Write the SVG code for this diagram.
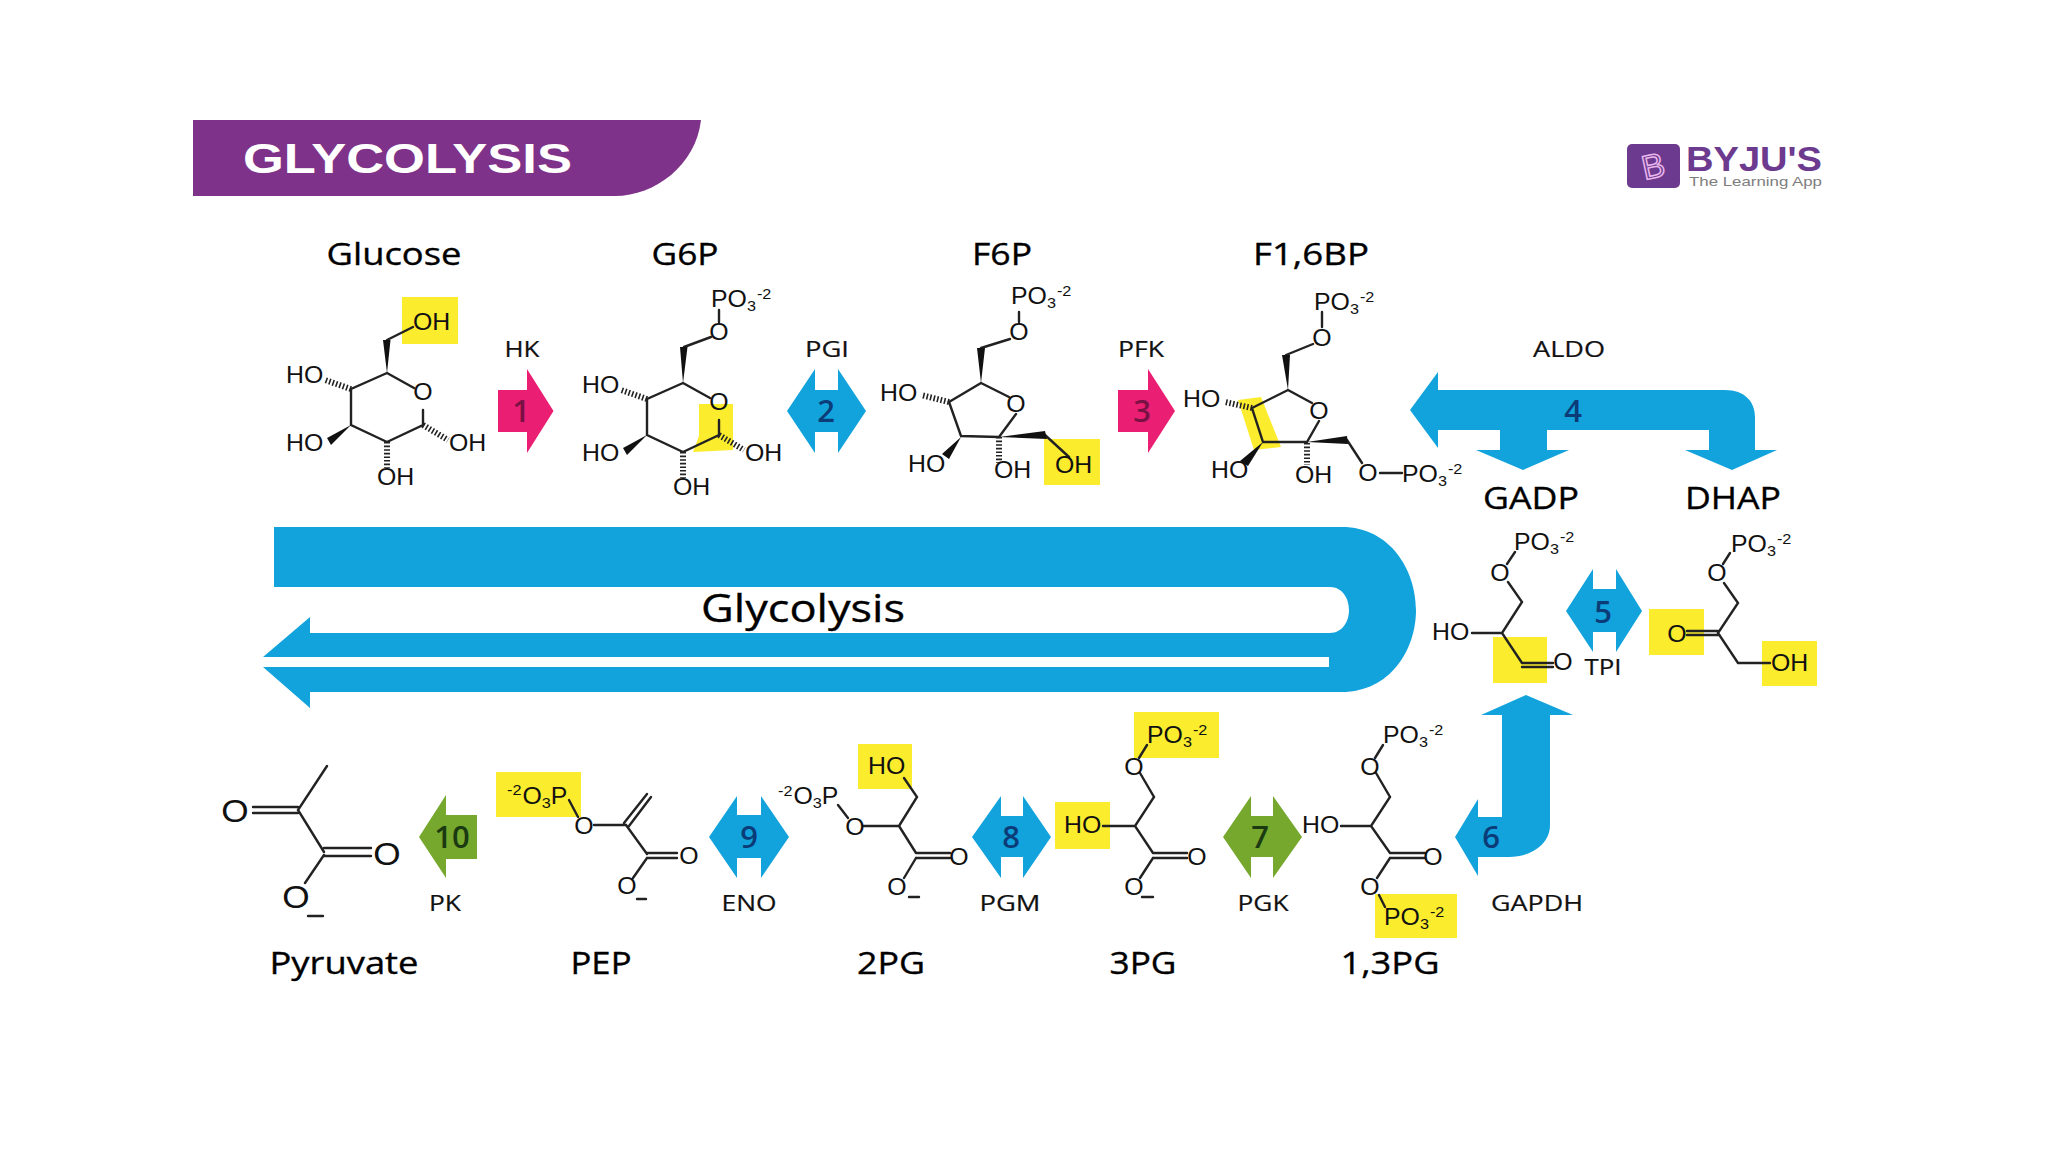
<svg xmlns="http://www.w3.org/2000/svg" width="2048" height="1152" viewBox="0 0 2048 1152">
<style>
.name{font-family:"Open Sans","Liberation Sans",sans-serif;font-size:31px;fill:#000;stroke:#000;stroke-width:.35;text-anchor:middle}
.enz{font-family:"Open Sans","Liberation Sans",sans-serif;font-size:21px;fill:#111;stroke:#111;stroke-width:.2;text-anchor:middle}
.num{font-family:"Open Sans","Liberation Sans",sans-serif;font-size:31px;font-weight:600;text-anchor:middle}
.c{font-family:"Liberation Sans",Arial,sans-serif;font-size:23px;fill:#111}
.m{text-anchor:middle}
.s{font-size:15px}
.b{stroke:#222;stroke-width:2.4;fill:none;stroke-linecap:round}
.h{stroke:#222;stroke-width:6;fill:none;stroke-dasharray:1.6 2}
.w{fill:#111}
.y{fill:#FBEC2E}
.blue{fill:#12A3DD}
.pink{fill:#EA1F73}
.green{fill:#76A82E}
</style>
<rect width="2048" height="1152" fill="#fff"/>
<g id="title">
<path d="M193,120H701C696,165 655,196 615,196H193Z" fill="#7F3289"/>
<text x="243" y="173" textLength="329" lengthAdjust="spacingAndGlyphs" font-family="'Liberation Sans',Arial,sans-serif" font-weight="700" font-size="43" fill="#fff">GLYCOLYSIS</text>
</g>
<g id="logo">
<rect x="1627" y="144" width="53" height="44" rx="5" fill="#6C3A8E"/>
<text x="1653" y="178" text-anchor="middle" font-family="'Liberation Sans',Arial,sans-serif" font-size="34" fill="none" stroke="#E9B7EC" stroke-width="1.5" transform="rotate(-12 1653 166)">B</text>
<text x="1686" y="171" textLength="136" lengthAdjust="spacingAndGlyphs" font-family="'Liberation Sans',Arial,sans-serif" font-weight="700" font-size="35" fill="#6C3A8E">BYJU'S</text>
<text x="1689" y="186" textLength="133" lengthAdjust="spacingAndGlyphs" font-family="'Liberation Sans',Arial,sans-serif" font-size="13" fill="#7d7d7d">The Learning App</text>
</g>

<g id="connectors">
<g id="flow"><path class="blue" d="M274,527H1342C1390,527 1416,570 1416,610C1416,650 1390,692 1342,692H310V708L263,667H1329V657H263L310,617V633H1330C1342,633 1349,622 1349,610C1349,598 1342,587 1330,587H274Z"/>
<text x="803" y="622" textLength="204" lengthAdjust="spacingAndGlyphs" class="name" style="font-size:39px">Glycolysis</text></g>
<g id="step1"><path class="pink" d="M498,390H527V369L553.500,411L527,453V432H498Z"/><text x="521" y="422" class="num" fill="#7A1145">1</text><text x="522" y="357" textLength="35" lengthAdjust="spacingAndGlyphs" class="enz">HK</text></g>
<g id="step2"><path class="blue" d="M787,411L815,369V390H838V369L866,411L838,453V432H815V453Z"/><text x="826" y="422" class="num" fill="#0B3C78">2</text><text x="827" y="357" textLength="44" lengthAdjust="spacingAndGlyphs" class="enz">PGI</text></g>
<g id="step3"><path class="pink" d="M1118,390H1148V369L1175,411L1148,453V432H1118Z"/><text x="1142" y="422" class="num" fill="#7A1145">3</text><text x="1141" y="357" textLength="46" lengthAdjust="spacingAndGlyphs" class="enz">PFK</text></g>
<g id="step4"><path class="blue" d="M1410,410L1438,372V390H1725C1745,390 1755,402 1755,417V450H1777L1732,470L1685,450H1709V430H1547V450H1569L1523,470L1476,450H1500V430H1438V448Z"/><text x="1573" y="422" class="num" fill="#0B3C78">4</text><text x="1569" y="357" textLength="72" lengthAdjust="spacingAndGlyphs" class="enz">ALDO</text></g>
<g id="step5"><path class="blue" d="M1566,611L1593,569V589H1616V569L1642,611L1616,652V632H1593V652Z"/><text x="1603" y="623" class="num" fill="#0B3C78">5</text><text x="1603" y="675" textLength="37" lengthAdjust="spacingAndGlyphs" class="enz">TPI</text></g>
<g id="step6"><path class="blue" d="M1455,837L1478,799V817H1502V715H1481L1526,695L1573,715H1550V825C1550,845 1530,857 1509,857H1478V876Z"/><text x="1491" y="848" class="num" fill="#0B3C78">6</text><text x="1537" y="911" textLength="92" lengthAdjust="spacingAndGlyphs" class="enz">GAPDH</text></g>
<g id="step7"><path class="green" d="M1223,837L1251,796V816H1273V796L1302,837L1273,878V857H1251V878Z"/><text x="1260" y="848" class="num" fill="#1B3A12">7</text><text x="1263" y="911" textLength="51" lengthAdjust="spacingAndGlyphs" class="enz">PGK</text></g>
<g id="step8"><path class="blue" d="M972,837L1001,796V816H1023V796L1051,837L1023,878V857H1001V878Z"/><text x="1011" y="848" class="num" fill="#0B3C78">8</text><text x="1010" y="911" textLength="61" lengthAdjust="spacingAndGlyphs" class="enz">PGM</text></g>
<g id="step9"><path class="blue" d="M709,837L737,796V815H761V796L789,837L761,878V858H737V878Z"/><text x="749" y="848" class="num" fill="#0B3C78">9</text><text x="749" y="911" textLength="55" lengthAdjust="spacingAndGlyphs" class="enz">ENO</text></g>
<g id="step10"><path class="green" d="M419,837L446,795V815H477V859H446V878Z"/><text x="452" y="848" class="num" fill="#1B3A12">10</text><text x="445" y="911" textLength="32" lengthAdjust="spacingAndGlyphs" class="enz">PK</text></g>
</g>

<g id="glucose">
<text x="394" y="265" textLength="135" lengthAdjust="spacingAndGlyphs" class="name">Glucose</text>
<rect class="y" x="402" y="297" width="56" height="47"/>
<path class="b" d="M387,373L414,388M423,410V425L387,442L351,425V389L387,373M387,340L413,327"/>
<path class="w" d="M387,373L383,340H390.500ZM351,425L327,438L331,445Z"/>
<path class="h" d="M351,389L325,380M423,425L448,440M387,442V468"/>
<text class="c" transform="translate(413 330) scale(1.08 1)">OH</text>
<text class="c m" transform="translate(423 400) scale(1.08 1)">O</text>
<text class="c" transform="translate(286 383) scale(1.08 1)">HO</text>
<text class="c" transform="translate(286 451) scale(1.08 1)">HO</text>
<text class="c" transform="translate(449 451) scale(1.08 1)">OH</text>
<text class="c" transform="translate(377 485) scale(1.08 1)">OH</text>
</g>

<g id="g6p">
<text x="685" y="265" textLength="67" lengthAdjust="spacingAndGlyphs" class="name">G6P</text>
<path class="y" d="M699,404H733V450L693,452L699,436Z"/>
<path class="b" d="M683,383L710,398M719,420V435L683,452L647,435V399L683,383M684,347L711,337M719,322V310"/>
<path class="w" d="M683,383L680,347H687.500ZM647,435L623,448L627,455Z"/>
<path class="h" d="M647,399L621,390M719,435L744,450M683,452V478"/>
<text class="c" transform="translate(711 307) scale(1.08 1)">PO<tspan class="s" dy="4">3</tspan><tspan class="s" dy="-12" dx="1">-2</tspan></text>
<text class="c m" transform="translate(719 340) scale(1.08 1)">O</text>
<text class="c m" transform="translate(719 410) scale(1.08 1)">O</text>
<text class="c" transform="translate(582 393) scale(1.08 1)">HO</text>
<text class="c" transform="translate(582 461) scale(1.08 1)">HO</text>
<text class="c" transform="translate(745 461) scale(1.08 1)">OH</text>
<text class="c" transform="translate(673 495) scale(1.08 1)">OH</text>
</g>

<g id="f6p">
<text x="1002" y="265" textLength="60" lengthAdjust="spacingAndGlyphs" class="name">F6P</text>
<rect class="y" x="1044" y="439" width="56" height="46"/>
<path class="b" d="M981,383L1009,397M1016,414L999,437L961,436L949,402L981,383M981,348L1010,339M1019,322V312M1045,435L1069,457"/>
<path class="w" d="M981,383L977,348H985ZM961,437L942,454L949,459ZM999,437L1045,431L1047,439Z"/>
<path class="h" d="M949,402L921,395M999,437V463"/>
<text class="c" transform="translate(1011 304) scale(1.08 1)">PO<tspan class="s" dy="4">3</tspan><tspan class="s" dy="-12" dx="1">-2</tspan></text>
<text class="c m" transform="translate(1019 340) scale(1.08 1)">O</text>
<text class="c m" transform="translate(1016 412) scale(1.08 1)">O</text>
<text class="c" transform="translate(880 401) scale(1.08 1)">HO</text>
<text class="c" transform="translate(908 472) scale(1.08 1)">HO</text>
<text class="c" transform="translate(994 478) scale(1.08 1)">OH</text>
<text class="c" transform="translate(1055 473) scale(1.08 1)">OH</text>
</g>

<g id="f16bp">
<text x="1311" y="265" textLength="116" lengthAdjust="spacingAndGlyphs" class="name">F1,6BP</text>
<path class="y" d="M1238,400L1261,397L1281,447L1254,450Z"/>
<path class="b" d="M1288,390L1312,403M1319,421L1307,442L1263,442L1252,408L1288,390M1286,355L1313,344M1322,327V312M1347,440L1362,463M1380,473H1402"/>
<path class="w" d="M1288,390L1282,355H1290ZM1263,442L1240,461L1248,466ZM1307,442L1347,436L1348,444Z"/>
<path class="h" d="M1252,408L1225,402M1307,443V465"/>
<text class="c" transform="translate(1314 310) scale(1.08 1)">PO<tspan class="s" dy="4">3</tspan><tspan class="s" dy="-12" dx="1">-2</tspan></text>
<text class="c m" transform="translate(1322 346) scale(1.08 1)">O</text>
<text class="c m" transform="translate(1319 419) scale(1.08 1)">O</text>
<text class="c" transform="translate(1183 407) scale(1.08 1)">HO</text>
<text class="c" transform="translate(1211 478) scale(1.08 1)">HO</text>
<text class="c" transform="translate(1295 483) scale(1.08 1)">OH</text>
<text class="c m" transform="translate(1368 481) scale(1.08 1)">O</text>
<text class="c" transform="translate(1402 482) scale(1.08 1)">PO<tspan class="s" dy="4">3</tspan><tspan class="s" dy="-12" dx="1">-2</tspan></text>
</g>

<g id="gadp">
<text x="1531" y="509" textLength="96" lengthAdjust="spacingAndGlyphs" class="name">GADP</text>
<rect class="y" x="1493" y="637" width="54" height="46"/>
<path class="b" d="M1515,552L1507,564M1508,582L1522,602L1502,633L1522,663H1553M1522,667H1553M1472,633H1502"/>
<text class="c" transform="translate(1514 550) scale(1.08 1)">PO<tspan class="s" dy="4">3</tspan><tspan class="s" dy="-12" dx="1">-2</tspan></text>
<text class="c m" transform="translate(1500 581) scale(1.08 1)">O</text>
<text class="c" transform="translate(1432 640) scale(1.08 1)">HO</text>
<text class="c m" transform="translate(1563 670) scale(1.08 1)">O</text>
</g>

<g id="dhap">
<text x="1733" y="509" textLength="96" lengthAdjust="spacingAndGlyphs" class="name">DHAP</text>
<rect class="y" x="1649" y="609" width="55" height="46"/>
<rect class="y" x="1762" y="641" width="55" height="45"/>
<path class="b" d="M1730,553L1723,564M1724,583L1738,603L1718,633L1738,663H1770M1687,631H1718M1687,635H1718"/>
<text class="c" transform="translate(1731 552) scale(1.08 1)">PO<tspan class="s" dy="4">3</tspan><tspan class="s" dy="-12" dx="1">-2</tspan></text>
<text class="c m" transform="translate(1717 581) scale(1.08 1)">O</text>
<text class="c m" transform="translate(1677 642) scale(1.08 1)">O</text>
<text class="c" transform="translate(1771 671) scale(1.08 1)">OH</text>
</g>

<g id="pg13">
<text x="1390" y="974" textLength="99" lengthAdjust="spacingAndGlyphs" class="name">1,3PG</text>
<rect class="y" x="1375" y="894" width="82" height="44"/>
<path class="b" d="M1383,745L1375,758M1376,773L1390,797L1371,826L1390,853M1341,826H1371M1390,853H1425M1390,858H1425M1390,858L1377,878M1379,895L1385,907"/>
<text class="c" transform="translate(1383 743) scale(1.08 1)">PO<tspan class="s" dy="4">3</tspan><tspan class="s" dy="-12" dx="1">-2</tspan></text>
<text class="c m" transform="translate(1370 775) scale(1.08 1)">O</text>
<text class="c" transform="translate(1302 833) scale(1.08 1)">HO</text>
<text class="c m" transform="translate(1433 865) scale(1.08 1)">O</text>
<text class="c m" transform="translate(1370 895) scale(1.08 1)">O</text>
<text class="c" transform="translate(1384 925) scale(1.08 1)">PO<tspan class="s" dy="4">3</tspan><tspan class="s" dy="-12" dx="1">-2</tspan></text>
</g>

<g id="pg3">
<text x="1143" y="974" textLength="67" lengthAdjust="spacingAndGlyphs" class="name">3PG</text>
<rect class="y" x="1134" y="712" width="85" height="46"/>
<rect class="y" x="1055" y="802" width="55" height="47"/>
<path class="b" d="M1147,745L1139,758M1140,773L1154,797L1135,826L1153,853M1103,826H1135M1153,853H1187M1153,858H1187M1153,858L1140,878M1142,897H1153"/>
<text class="c" transform="translate(1147 743) scale(1.08 1)">PO<tspan class="s" dy="4">3</tspan><tspan class="s" dy="-12" dx="1">-2</tspan></text>
<text class="c m" transform="translate(1134 775) scale(1.08 1)">O</text>
<text class="c" transform="translate(1064 833) scale(1.08 1)">HO</text>
<text class="c m" transform="translate(1197 865) scale(1.08 1)">O</text>
<text class="c m" transform="translate(1134 895) scale(1.08 1)">O</text>
</g>

<g id="pg2">
<text x="891" y="974" textLength="68" lengthAdjust="spacingAndGlyphs" class="name">2PG</text>
<rect class="y" x="858" y="744" width="54" height="45"/>
<path class="b" d="M838,805L848,818M863,826H899L917,797L904,778M899,826L916,853M916,853H950M916,858H950M916,858L904,878M909,897H919"/>
<text class="c" transform="translate(778 796) scale(1.08 1)"><tspan class="s">-2</tspan><tspan dy="8" dx="1">O</tspan><tspan class="s" dy="4">3</tspan><tspan dy="-4">P</tspan></text>
<text class="c" transform="translate(868 774) scale(1.08 1)">HO</text>
<text class="c m" transform="translate(855 835) scale(1.08 1)">O</text>
<text class="c m" transform="translate(959 865) scale(1.08 1)">O</text>
<text class="c m" transform="translate(897 895) scale(1.08 1)">O</text>
</g>

<g id="pep">
<text x="601" y="974" textLength="61" lengthAdjust="spacingAndGlyphs" class="name">PEP</text>
<rect class="y" x="496" y="772" width="85" height="45"/>
<path class="b" d="M569,800L578,817M594,825H626M624,823L647,794M629,826L651,797M626,825L647,854M647,853H677M647,858H677M647,858L633,878M637,899H646"/>
<text class="c" transform="translate(507 795) scale(1.08 1)"><tspan class="s">-2</tspan><tspan dy="9" dx="1">O</tspan><tspan class="s" dy="4">3</tspan><tspan dy="-4">P</tspan></text>
<text class="c m" transform="translate(584 834) scale(1.08 1)">O</text>
<text class="c m" transform="translate(689 864) scale(1.08 1)">O</text>
<text class="c m" transform="translate(627 894) scale(1.08 1)">O</text>
</g>

<g id="pyruvate">
<text x="344" y="974" textLength="149" lengthAdjust="spacingAndGlyphs" class="name">Pyruvate</text>
<path class="b" d="M327,766L298,810L324,852M253,807H298M253,813H298M324,848H371M324,856H371M324,855L305,883M308,916H323"/>
<text class="c m" style="font-size:32px" transform="translate(235 822) scale(1.1 1)">O</text>
<text class="c m" style="font-size:32px" transform="translate(387 865) scale(1.1 1)">O</text>
<text class="c m" style="font-size:32px" transform="translate(296 908) scale(1.1 1)">O</text>
</g>
</svg>
